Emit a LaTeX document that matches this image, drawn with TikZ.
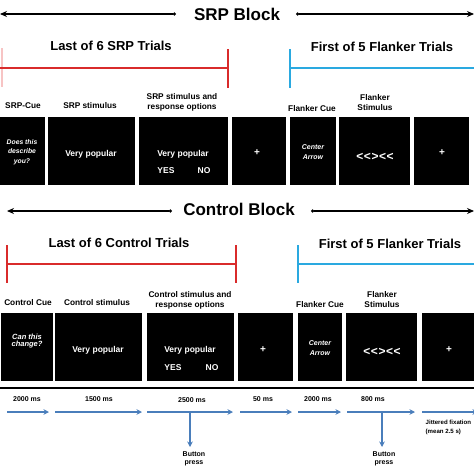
\documentclass[tikz,border=0pt]{standalone}
\usepackage{fontspec}
\setmainfont{Liberation Sans}
\usetikzlibrary{arrows.meta}
\definecolor{trialred}{HTML}{D92B2B}
\definecolor{flankblue}{HTML}{2AA9E0}
\definecolor{timeblue}{HTML}{4A7EBB}
\definecolor{palepink}{HTML}{F7C4C4}
\newcommand{\fsz}[2]{\fontsize{#1}{#2}\selectfont}
\newcommand{\flankarrows}{{<}\kern0.6pt{<}\kern0.6pt{>}\kern0.6pt{<}\kern0.6pt{<}}
\begin{document}
\begin{tikzpicture}[x=1pt,y=-1pt,
 screen/.style={fill=black, draw=none, inner sep=0pt, anchor=north west, minimum height=68pt},
 blocktitle/.style={font=\bfseries\fsz{17}{20}, inner sep=0pt},
 trialtitle/.style={font=\bfseries\fsz{13}{15}, inner sep=0pt},
 steplabel/.style={font=\bfseries\fsz{8.3}{10.5}, align=center, inner sep=0pt},
 screentext/.style={font=\bfseries\fsz{8.5}{10}, text=white, align=center, inner sep=0pt},
 cuetext/.style={font=\bfseries\itshape\fsz{6.8}{9.3}, text=white, align=center, inner sep=0pt},
 fixtext/.style={font=\bfseries\fsz{10}{12}, text=white, inner sep=0pt},
 flanktext/.style={font=\bfseries\fsz{12}{14}, text=white, inner sep=0pt},
 timelabel/.style={font=\bfseries\fsz{7}{8}, align=center, inner sep=0pt},
 blockarrow/.style={line width=1.1pt, {Circle[length=3.2pt]}-{Stealth[length=7pt,width=6pt]}},
 trialline/.style={line width=1.6pt},
 timearrow/.style={timeblue, line width=1.2pt, -{Stealth[length=5.5pt,width=5.5pt]}}
]
\useasboundingbox (0,0) rectangle (474,474);
\clip (0,0) rectangle (474,474);

% ---------- SRP block header ----------
\node[blocktitle] (srpblock) at (237,14) {SRP Block};
\coordinate (srpLin) at (176,14); \coordinate (srpLout) at (0,14);
\coordinate (srpRin) at (296,14); \coordinate (srpRout) at (474,14);
\draw[blockarrow] (srpLin) -- (srpLout);
\draw[blockarrow] (srpRin) -- (srpRout);

\node[trialtitle] (srptrials) at (111,46) {Last of 6 SRP Trials};
\node[trialtitle] (srpflank) at (382,47) {First of 5 Flanker Trials};
\coordinate (rA) at (0,68); \coordinate (rB) at (228,68);
\coordinate (rBt) at (228,49); \coordinate (rBb) at (228,88);
\coordinate (pT) at (2,48); \coordinate (pB) at (2,87);
\draw[palepink, line width=2pt] (pT) -- (pB);
\draw[trialred, trialline] (rA) -- (rB);
\draw[trialred, trialline] (rBt) -- (rBb);
\coordinate (bA) at (290,68); \coordinate (bB) at (474,68);
\coordinate (bAt) at (290,49); \coordinate (bAb) at (290,88);
\draw[flankblue, trialline] (bA) -- (bB);
\draw[flankblue, trialline] (bAt) -- (bAb);

% ---------- SRP row ----------
\node[steplabel] (l1) at (23,106) {SRP-Cue};
\node[steplabel] (l2) at (90,106) {SRP stimulus};
\node[steplabel] (l3) at (182,102.5) {SRP stimulus and\\response options};
\node[steplabel] (l5) at (312,109) {Flanker Cue};
\node[steplabel] (l6) at (375,102.5) {Flanker\\Stimulus};

\node[screen, minimum width=45pt] (b1) at (0,117) {};
\node[screen, minimum width=87pt] (b2) at (48,117) {};
\node[screen, minimum width=89pt] (b3) at (139,117) {};
\node[screen, minimum width=54pt] (b4) at (232,117) {};
\node[screen, minimum width=46pt] (b5) at (290,117) {};
\node[screen, minimum width=71pt] (b6) at (339,117) {};
\node[screen, minimum width=55pt] (b7) at (414,117) {};

\node[cuetext] (b1t) at (22,152) {Does this\\describe\\you?};
\node[screentext] (b2t) at (91,154) {Very popular};
\node[screentext] (b3t) at (183,154) {Very popular};
\node[screentext] (b3y) at (166,171) {YES};
\node[screentext] (b3n) at (204,171) {NO};
\node[fixtext] (b4t) at (257,153) {+};
\node[cuetext, font=\bfseries\itshape\fsz{7}{10}] (b5t) at (313,152) {Center\\Arrow};
\node[flanktext] (b6t) at (375,157) {\flankarrows};
\node[fixtext] (b7t) at (442,153) {+};

% ---------- Control block header ----------
\node[blocktitle] (ctlblock) at (239,209) {Control Block};
\coordinate (ctlLin) at (172,211); \coordinate (ctlLout) at (7,211);
\coordinate (ctlRin) at (311,211); \coordinate (ctlRout) at (474,211);
\draw[blockarrow] (ctlLin) -- (ctlLout);
\draw[blockarrow] (ctlRin) -- (ctlRout);

\node[trialtitle] (ctltrials) at (119,243) {Last of 6 Control Trials};
\node[trialtitle] (ctlflank) at (390,244) {First of 5 Flanker Trials};
\coordinate (cA) at (7,264); \coordinate (cB) at (236,264);
\coordinate (cAt) at (7,245); \coordinate (cAb) at (7,283);
\coordinate (cBt) at (236,245); \coordinate (cBb) at (236,283);
\draw[trialred, trialline] (cA) -- (cB);
\draw[trialred, trialline] (cAt) -- (cAb);
\draw[trialred, trialline] (cBt) -- (cBb);
\coordinate (dA) at (298,264); \coordinate (dB) at (474,264);
\coordinate (dAt) at (298,245); \coordinate (dAb) at (298,283);
\draw[flankblue, trialline] (dA) -- (dB);
\draw[flankblue, trialline] (dAt) -- (dAb);

% ---------- Control row ----------
\node[steplabel] (m1) at (28,303) {Control Cue};
\node[steplabel] (m2) at (97,303) {Control stimulus};
\node[steplabel, font=\bfseries\fsz{8.3}{9.6}] (m3) at (190,300.5) {Control stimulus and\\response options};
\node[steplabel] (m5) at (320,305) {Flanker Cue};
\node[steplabel, font=\bfseries\fsz{8.3}{10}] (m6) at (382,300) {Flanker\\Stimulus};

\node[screen, minimum width=52pt] (c1) at (1,313) {};
\node[screen, minimum width=87pt] (c2) at (55,313) {};
\node[screen, minimum width=87pt] (c3) at (147,313) {};
\node[screen, minimum width=55pt] (c4) at (238,313) {};
\node[screen, minimum width=44pt] (c5) at (298,313) {};
\node[screen, minimum width=71pt] (c6) at (346,313) {};
\node[screen, minimum width=60pt] (c7) at (422,313) {};

\node[cuetext, font=\bfseries\itshape\fsz{7.5}{7.5}] (c1t) at (27,341) {Can this\\change?};
\node[screentext] (c2t) at (98,350) {Very popular};
\node[screentext] (c3t) at (190,350) {Very popular};
\node[screentext] (c3y) at (173,368) {YES};
\node[screentext] (c3n) at (212,368) {NO};
\node[fixtext] (c4t) at (263,350) {+};
\node[cuetext, font=\bfseries\itshape\fsz{7}{10}] (c5t) at (320,348) {Center\\Arrow};
\node[flanktext] (c6t) at (382,352) {\flankarrows};
\node[fixtext] (c7t) at (449,350) {+};

\coordinate (barL) at (0,388); \coordinate (barR) at (474,388);
\draw[black, line width=1.8pt] (barL) -- (barR);

% ---------- Timeline ----------
\node[timelabel] (d1) at (27,399) {2000 ms};
\node[timelabel] (d2) at (99,399) {1500 ms};
\node[timelabel] (d3) at (192,400) {2500 ms};
\node[timelabel] (d4) at (263,399) {50 ms};
\node[timelabel] (d5) at (318,399) {2000 ms};
\node[timelabel] (d6) at (373,399) {800 ms};

\coordinate (t1s) at (7,412);   \coordinate (t1e) at (49,412);
\coordinate (t2s) at (55,412);  \coordinate (t2e) at (142,412);
\coordinate (t3s) at (147,412); \coordinate (t3e) at (233,412);
\coordinate (t4s) at (240,412); \coordinate (t4e) at (292,412);
\coordinate (t5s) at (298,412); \coordinate (t5e) at (341,412);
\coordinate (t6s) at (347,412); \coordinate (t6e) at (415,412);
\coordinate (t7s) at (422,412); \coordinate (t7e) at (478,412);
\draw[timearrow] (t1s) -- (t1e);
\draw[timearrow] (t2s) -- (t2e);
\draw[timearrow] (t3s) -- (t3e);
\draw[timearrow] (t4s) -- (t4e);
\draw[timearrow] (t5s) -- (t5e);
\draw[timearrow] (t6s) -- (t6e);
\draw[timearrow] (t7s) -- (t7e);

\coordinate (p1s) at (190,412); \coordinate (p1e) at (190,447);
\coordinate (p2s) at (382,412); \coordinate (p2e) at (382,447);
\draw[timearrow] (p1s) -- (p1e);
\draw[timearrow] (p2s) -- (p2e);
\node[timelabel] (bp1) at (194,459) {Button\\press};
\node[timelabel] (bp2) at (384,459) {Button\\press};
\node[timelabel, align=left, anchor=west, font=\bfseries\fsz{6.1}{8.5}] (jit) at (425.5,427.5) {Jittered fixation\\(mean 2.5 s)};
\end{tikzpicture}
\end{document}
